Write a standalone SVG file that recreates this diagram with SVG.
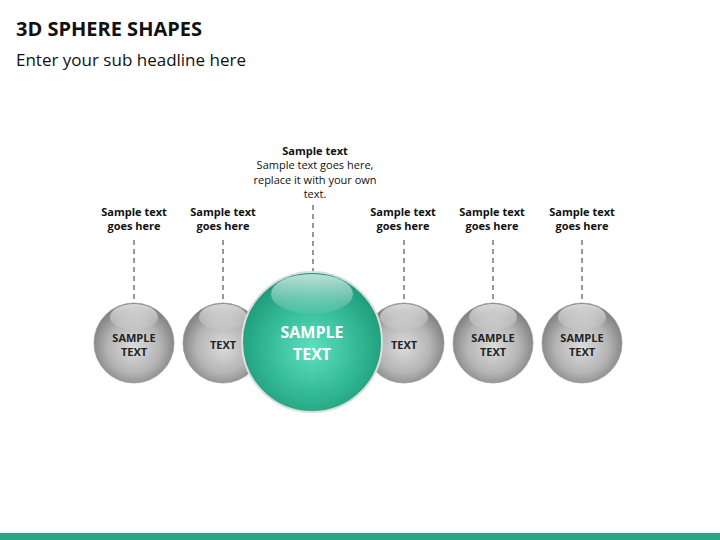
<svg xmlns="http://www.w3.org/2000/svg" width="720" height="540" viewBox="0 0 720 540">
<style>
.t{font-family:"Open Sans","Liberation Sans",sans-serif}
.lb{font-size:11px;font-weight:bold;fill:#111;text-anchor:middle}
.lr{font-size:11px;fill:#111;text-anchor:middle}
.st{font-size:11px;font-weight:bold;fill:#222;text-anchor:middle}
.c{stroke:#777;stroke-width:1.5;stroke-dasharray:5,4;fill:none}
</style>
<defs>
<radialGradient id="g" cx="50%" cy="55%" r="55%">
<stop offset="0" stop-color="#dcdcdc"/><stop offset="0.6" stop-color="#b4b4b4"/><stop offset="1" stop-color="#7c7c7c"/>
</radialGradient>
<radialGradient id="gg" cx="50%" cy="55%" r="55%">
<stop offset="0" stop-color="#5ee0c0"/><stop offset="0.6" stop-color="#33b895"/><stop offset="1" stop-color="#1d9a78"/>
</radialGradient>
<linearGradient id="h" x1="0" y1="0" x2="0" y2="1">
<stop offset="0" stop-color="#fff" stop-opacity="0.7"/><stop offset="1" stop-color="#fff" stop-opacity="0.05"/>
</linearGradient>
</defs>
<rect width="720" height="540" fill="#fff"/>
<text class="t" x="16" y="36" font-size="20" font-weight="bold" fill="#111">3D SPHERE SHAPES</text>
<text class="t" x="16" y="66" font-size="17" fill="#111">Enter your sub headline here</text>
<rect x="0" y="533" width="720" height="7" fill="#2aa584"/>
<g id="connectors">
<line class="c" x1="134" y1="240" x2="134" y2="302"/>
<line class="c" x1="223" y1="240" x2="223" y2="302"/>
<line class="c" x1="404" y1="240" x2="404" y2="302"/>
<line class="c" x1="493" y1="240" x2="493" y2="302"/>
<line class="c" x1="582" y1="240" x2="582" y2="302"/>
<line class="c" x1="313" y1="205" x2="313" y2="272"/>
</g>
<g id="labels" class="t">
<text class="lb" x="134" y="216">Sample text</text><text class="lb" x="134" y="230">goes here</text>
<text class="lb" x="223" y="216">Sample text</text><text class="lb" x="223" y="230">goes here</text>
<text class="lb" x="403" y="216">Sample text</text><text class="lb" x="403" y="230">goes here</text>
<text class="lb" x="492" y="216">Sample text</text><text class="lb" x="492" y="230">goes here</text>
<text class="lb" x="582" y="216">Sample text</text><text class="lb" x="582" y="230">goes here</text>
<text class="lb" x="315" y="155">Sample text</text>
<text class="lr" x="315" y="169">Sample text goes here,</text>
<text class="lr" x="315" y="184">replace it with your own</text>
<text class="lr" x="315" y="198">text.</text>
</g>
<g id="s1"><circle cx="134" cy="343" r="40" fill="url(#g)" stroke="#999" stroke-width="0.8"/><ellipse cx="134" cy="317" rx="24" ry="13" fill="url(#h)"/><text class="t st" x="134" y="342">SAMPLE</text><text class="t st" x="134" y="356">TEXT</text></g>
<g id="s2"><circle cx="223" cy="343" r="40" fill="url(#g)" stroke="#999" stroke-width="0.8"/><ellipse cx="223" cy="317" rx="24" ry="13" fill="url(#h)"/><text class="t st" x="223" y="349">TEXT</text></g>
<g id="s4"><circle cx="404" cy="343" r="40" fill="url(#g)" stroke="#999" stroke-width="0.8"/><ellipse cx="404" cy="317" rx="24" ry="13" fill="url(#h)"/><text class="t st" x="404" y="349">TEXT</text></g>
<g id="s5"><circle cx="493" cy="343" r="40" fill="url(#g)" stroke="#999" stroke-width="0.8"/><ellipse cx="493" cy="317" rx="24" ry="13" fill="url(#h)"/><text class="t st" x="493" y="342">SAMPLE</text><text class="t st" x="493" y="356">TEXT</text></g>
<g id="s6"><circle cx="582" cy="343" r="40" fill="url(#g)" stroke="#999" stroke-width="0.8"/><ellipse cx="582" cy="317" rx="24" ry="13" fill="url(#h)"/><text class="t st" x="582" y="342">SAMPLE</text><text class="t st" x="582" y="356">TEXT</text></g>
<g id="s3"><circle cx="312" cy="342" r="70" fill="url(#gg)" stroke="#ddd" stroke-width="2"/><ellipse cx="312" cy="294" rx="41" ry="20" fill="url(#h)"/><text class="t" x="312" y="338" font-size="16" font-weight="bold" fill="#fff" text-anchor="middle">SAMPLE</text><text class="t" x="312" y="360" font-size="16" font-weight="bold" fill="#fff" text-anchor="middle">TEXT</text></g>
</svg>
